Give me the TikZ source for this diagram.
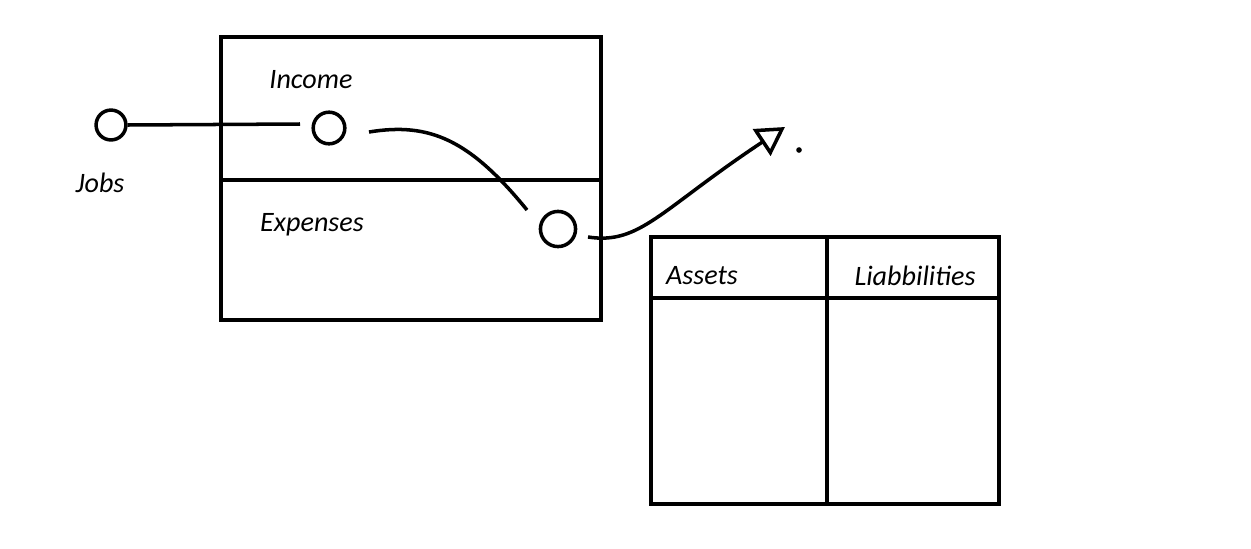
\documentclass[tikz,border=0pt]{standalone}
\usepackage{fontspec}
\setmainfont{Carlito}
\usetikzlibrary{arrows.meta}
\begin{document}
\begin{tikzpicture}[x=0.02cm,y=-0.02cm,line width=2pt,
  lbl/.style={font=\itshape\fontsize{16}{18}\selectfont,inner sep=0pt},
  port/.style={draw,circle,minimum size=29pt,inner sep=0pt}]
\useasboundingbox (0,0) rectangle (1251,548);
\draw (221,37) rectangle (601,320);
\draw (221,180) -- (601,180);
\node[port,minimum size=17pt] (jobs) at (111,125) {};
\node[lbl] (jobsl) at (100,183) {Jobs};
\node[lbl] (inc) at (311,80) {Income};
\node[lbl] (exp) at (312,225) {Expenses};
\node[port,minimum size=18pt] (ci) at (329,128) {};
\node[port,minimum size=20pt] (ce) at (558,229) {};
\coordinate (a1) at (369,132);
\coordinate (a2) at (527,210);
\coordinate (b1) at (588,237);
\coordinate (tip) at (785,127);
\draw (jobs.east) -- (300,124);
\draw (a1) .. controls (430,122) and (470,140) .. (a2);
\draw[-{Triangle[open,length=16pt,width=18pt]}] (b1) .. controls (640,245) and (660,210) .. (tip);
\fill (799,150) circle (1.6pt);
\draw (651,237) rectangle (999,504);
\draw (827,237) -- (827,504);
\draw (651,298) -- (999,298);
\node[lbl] (as) at (702,276) {Assets};
\node[lbl] (li) at (915,276) {Liabbilities};
\end{tikzpicture}
\end{document}
